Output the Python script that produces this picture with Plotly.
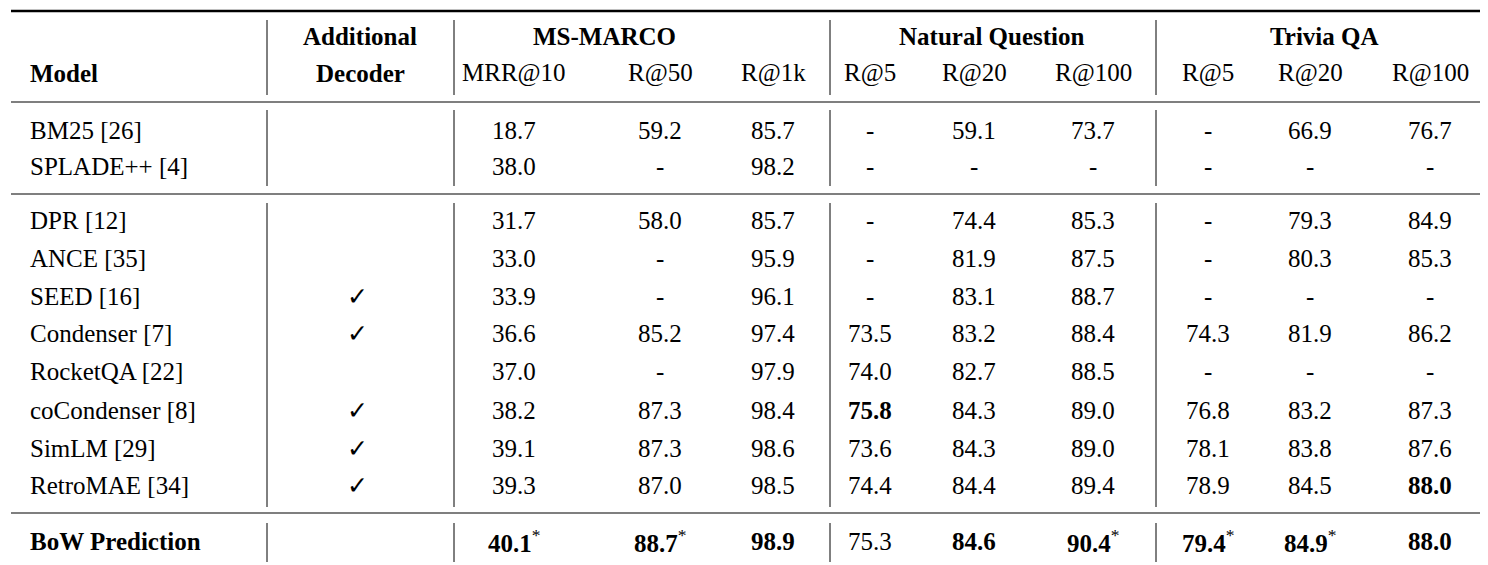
import plotly.graph_objects as go

# table contents
models = ["BM25 [26]", "SPLADE++ [4]", "DPR [12]", "ANCE [35]", "SEED [16]",
          "Condenser [7]", "RocketQA [22]", "coCondenser [8]", "SimLM [29]",
          "RetroMAE [34]", "BoW Prediction"]
decoder = ["", "", "", "", "✓", "✓", "", "✓", "✓", "✓", ""]
groups = ["MS-MARCO", "Natural Question", "Trivia QA"]
metrics = ["MRR@10", "R@50", "R@1k", "R@5", "R@20", "R@100", "R@5", "R@20", "R@100"]
values = [
    ["18.7", "59.2", "85.7", "-", "59.1", "73.7", "-", "66.9", "76.7"],
    ["38.0", "-", "98.2", "-", "-", "-", "-", "-", "-"],
    ["31.7", "58.0", "85.7", "-", "74.4", "85.3", "-", "79.3", "84.9"],
    ["33.0", "-", "95.9", "-", "81.9", "87.5", "-", "80.3", "85.3"],
    ["33.9", "-", "96.1", "-", "83.1", "88.7", "-", "-", "-"],
    ["36.6", "85.2", "97.4", "73.5", "83.2", "88.4", "74.3", "81.9", "86.2"],
    ["37.0", "-", "97.9", "74.0", "82.7", "88.5", "-", "-", "-"],
    ["38.2", "87.3", "98.4", "75.8", "84.3", "89.0", "76.8", "83.2", "87.3"],
    ["39.1", "87.3", "98.6", "73.6", "84.3", "89.0", "78.1", "83.8", "87.6"],
    ["39.3", "87.0", "98.5", "74.4", "84.4", "89.4", "78.9", "84.5", "88.0"],
    ["40.1", "88.7", "98.9", "75.3", "84.6", "90.4", "79.4", "84.9", "88.0"],
]
bold_cells = [(7, 3), (9, 8), (10, 0), (10, 1), (10, 2), (10, 4), (10, 5),
              (10, 6), (10, 7), (10, 8)]
star_cells = [(10, 0), (10, 1), (10, 5), (10, 6), (10, 7)]

# layout positions (pixels)
col_x = [506, 652, 765, 862, 966, 1085, 1200, 1302, 1422]
group_x = [596, 984, 1316]
row_y = [122, 158, 212, 250, 288, 325, 363, 402, 440, 477, 533]
vlines = [259, 446, 822, 1148]
vsegs = [(12, 87), (102, 178), (195, 499), (515, 554)]
font = dict(family="Liberation Serif, DejaVu Serif, serif", size=25, color="black")

ann = []
def add(x, y, text, xanchor="center"):
    ann.append(dict(x=x, y=y, text=text, showarrow=False, xanchor=xanchor,
                    yanchor="middle", font=font))

add(20, 65, "<b>Model</b>", "left")
add(352, 28, "<b>Additional</b>")
add(352, 65, "<b>Decoder</b>")
for g, x in zip(groups, group_x):
    add(x, 28, "<b>" + g + "</b>")
for m, x in zip(metrics, col_x):
    add(x, 65, m)

for i, (name, y) in enumerate(zip(models, row_y)):
    add(20, y, "<b>" + name + "</b>" if i == 10 else name, "left")
    if decoder[i]:
        add(349, y, decoder[i])
    for j, v in enumerate(values[i]):
        t = "<b>" + v + "</b>" if (i, j) in bold_cells else v
        if (i, j) in star_cells:
            t += "<sup>*</sup>"
        add(col_x[j], y, t)

shapes = []
for y, w in [(3, 2.5), (94, 1.2), (186, 1.2), (505, 1.2), (562, 2.5)]:
    shapes.append(dict(type="line", x0=3, x1=1485, y0=y, y1=y,
                       line=dict(color="black", width=w)))
for x in vlines:
    for y0, y1 in vsegs:
        shapes.append(dict(type="line", x0=x, x1=x, y0=y0, y1=y1,
                           line=dict(color="black", width=1)))

fig = go.Figure()
fig.update_layout(
    width=1488, height=565, margin=dict(l=0, r=0, t=0, b=0),
    paper_bgcolor="white", plot_bgcolor="white",
    xaxis=dict(range=[0, 1488], visible=False, fixedrange=True),
    yaxis=dict(range=[565, 0], visible=False, fixedrange=True),
    annotations=ann, shapes=shapes, showlegend=False,
)
fig.write_html("out.html")
